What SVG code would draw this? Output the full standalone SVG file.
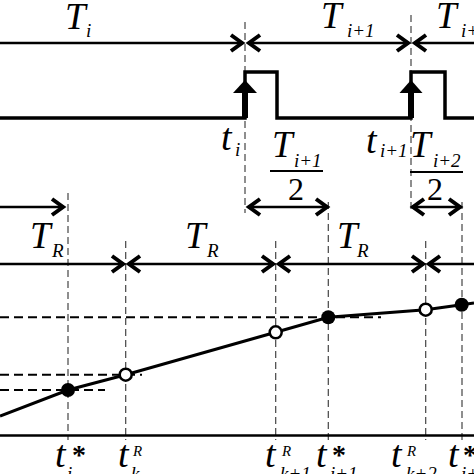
<svg xmlns="http://www.w3.org/2000/svg" width="474" height="474" viewBox="0 0 474 474">
<style>
.ln{stroke:#000;fill:none}
.dv{stroke:#444;stroke-width:1.2;stroke-dasharray:7 4;fill:none}
.dh{stroke:#000;stroke-width:2;stroke-dasharray:9 5;fill:none}
.ar{stroke:#000;stroke-width:2.5;fill:none;marker-end:url(#ch)}
.ar2{stroke:#000;stroke-width:2.5;fill:none;marker-start:url(#ch);marker-end:url(#ch)}
.ars{stroke:#000;stroke-width:2.5;fill:none;marker-start:url(#ch)}
text{font-family:"Liberation Serif","Times New Roman",serif;font-style:italic;fill:#000}
.big{font-size:37px}
.sml{font-size:38px}
.sub{font-size:19px}
.sup{font-size:15px}
.num{font-style:normal;font-size:32px}
.star{font-style:normal;font-weight:bold;font-size:28px}
.dot{fill:#000}
.odot{fill:#fff;stroke:#000;stroke-width:2.5}
</style>
<defs>
<marker id="ch" viewBox="-16 -12 20 24" markerWidth="20" markerHeight="24" refX="0" refY="0" orient="auto-start-reverse" markerUnits="userSpaceOnUse">
<path d="M-12,-8 L-1,0 L-12,8" stroke="#000" stroke-width="4" fill="none"/>
</marker>
</defs>

<g id="guides">
<line class="dv" x1="245" y1="22" x2="245" y2="213"/>
<line class="dv" x1="411" y1="15" x2="411" y2="213"/>
<line class="dv" x1="68" y1="193" x2="68" y2="440"/>
<line class="dv" x1="328.3" y1="202" x2="328.3" y2="440"/>
<line class="dv" x1="462" y1="202" x2="462" y2="440"/>
<line class="dv" x1="125.7" y1="241" x2="125.7" y2="440"/>
<line class="dv" x1="275.7" y1="241" x2="275.7" y2="440"/>
<line class="dv" x1="425.7" y1="241" x2="425.7" y2="440"/>
<line class="dh" x1="0" y1="390" x2="105" y2="390"/>
<line class="dh" x1="0" y1="374.7" x2="142" y2="374.7"/>
<line class="dh" x1="0" y1="317.3" x2="381" y2="317.3"/>
</g>

<g id="connectors">
<line class="ar" x1="0" y1="43" x2="243" y2="43"/>
<line class="ar2" x1="248" y1="43" x2="409" y2="43"/>
<line class="ars" x1="414" y1="43" x2="474" y2="43"/>
<line class="ar" x1="0" y1="264" x2="124" y2="264"/>
<line class="ar2" x1="128" y1="264" x2="274" y2="264"/>
<line class="ar2" x1="278" y1="264" x2="424" y2="264"/>
<line class="ars" x1="428" y1="264" x2="474" y2="264"/>
<line class="ar" x1="0" y1="207" x2="64" y2="207"/>
<line class="ar2" x1="248" y1="207" x2="328" y2="207"/>
<line class="ar2" x1="412" y1="207" x2="461" y2="207"/>
</g>

<g id="pulse">
<path class="ln" stroke-width="3.5" d="M0,118 H245 V72 H277 V118 H411 V72 H445 V118 H474"/>
<rect x="242" y="90" width="6" height="28" fill="#000"/>
<path d="M245,80 L233,93 L257,93 Z" fill="#000"/>
<rect x="408" y="90" width="6" height="28" fill="#000"/>
<path d="M411,80 L399.5,93 L422.5,93 Z" fill="#000"/>
</g>

<g id="axis">
<line class="ln" stroke-width="2.5" x1="0" y1="435.5" x2="474" y2="435.5"/>
</g>

<g id="curve">
<polyline class="ln" stroke-width="3" points="0,416 68,390 125.7,374.7 275.7,332.3 328.3,317.3 425.7,309.7 461.7,304.7 474,303"/>
<circle class="dot" cx="68" cy="390" r="7"/>
<circle class="odot" cx="125.7" cy="374.7" r="6"/>
<circle class="odot" cx="275.7" cy="332.3" r="6"/>
<circle class="dot" cx="328.3" cy="317.3" r="7"/>
<circle class="odot" cx="425.7" cy="309.7" r="6"/>
<circle class="dot" cx="461.7" cy="304.7" r="7"/>
</g>

<g id="labels-top">
<text class="big" x="65" y="29">T</text><text class="sub" x="86" y="37">i</text>
<text class="big" x="321" y="28">T</text><text class="sub" x="347" y="37">i+1</text>
<text class="big" x="436" y="28">T</text><text class="sub" x="461" y="37">i+2</text>
<text class="sml" x="221" y="150">t</text><text class="sub" x="235" y="156">i</text>
<text class="sml" x="366" y="153">t</text><text class="sub" x="380" y="157">i+1</text>
</g>

<g id="fractions">
<text class="big" x="272" y="157">T</text><text class="sub" x="294" y="167">i+1</text>
<line class="ln" stroke-width="2" x1="270" y1="171" x2="323" y2="171"/>
<text class="num" x="288" y="200">2</text>
<text class="big" x="410" y="157">T</text><text class="sub" x="433" y="167">i+2</text>
<line class="ln" stroke-width="2" x1="410" y1="172" x2="463" y2="172"/>
<text class="num" x="427" y="200">2</text>
</g>

<g id="labels-TR">
<text class="big" x="30" y="248">T</text><text class="sub" x="52" y="257">R</text>
<text class="big" x="185" y="248">T</text><text class="sub" x="207" y="257">R</text>
<text class="big" x="337" y="248">T</text><text class="sub" x="357" y="257">R</text>
</g>

<g id="labels-bottom">
<text class="sml" x="55" y="467">t</text><text class="star" x="72" y="464">*</text><text class="sub" x="67" y="480">i</text>
<text class="sml" x="118" y="467">t</text><text class="sup" x="133" y="456">R</text><text class="sub" x="131" y="480">k</text>
<text class="sml" x="265" y="467">t</text><text class="sup" x="282" y="456">R</text><text class="sub" x="280" y="480">k+1</text>
<text class="sml" x="316" y="467">t</text><text class="star" x="332" y="464">*</text><text class="sub" x="330" y="480">i+1</text>
<text class="sml" x="391" y="467">t</text><text class="sup" x="407" y="456">R</text><text class="sub" x="406" y="480">k+2</text>
<text class="sml" x="448" y="467">t</text><text class="star" x="463" y="464">*</text><text class="sub" x="461" y="480">i+2</text>
</g>
</svg>
